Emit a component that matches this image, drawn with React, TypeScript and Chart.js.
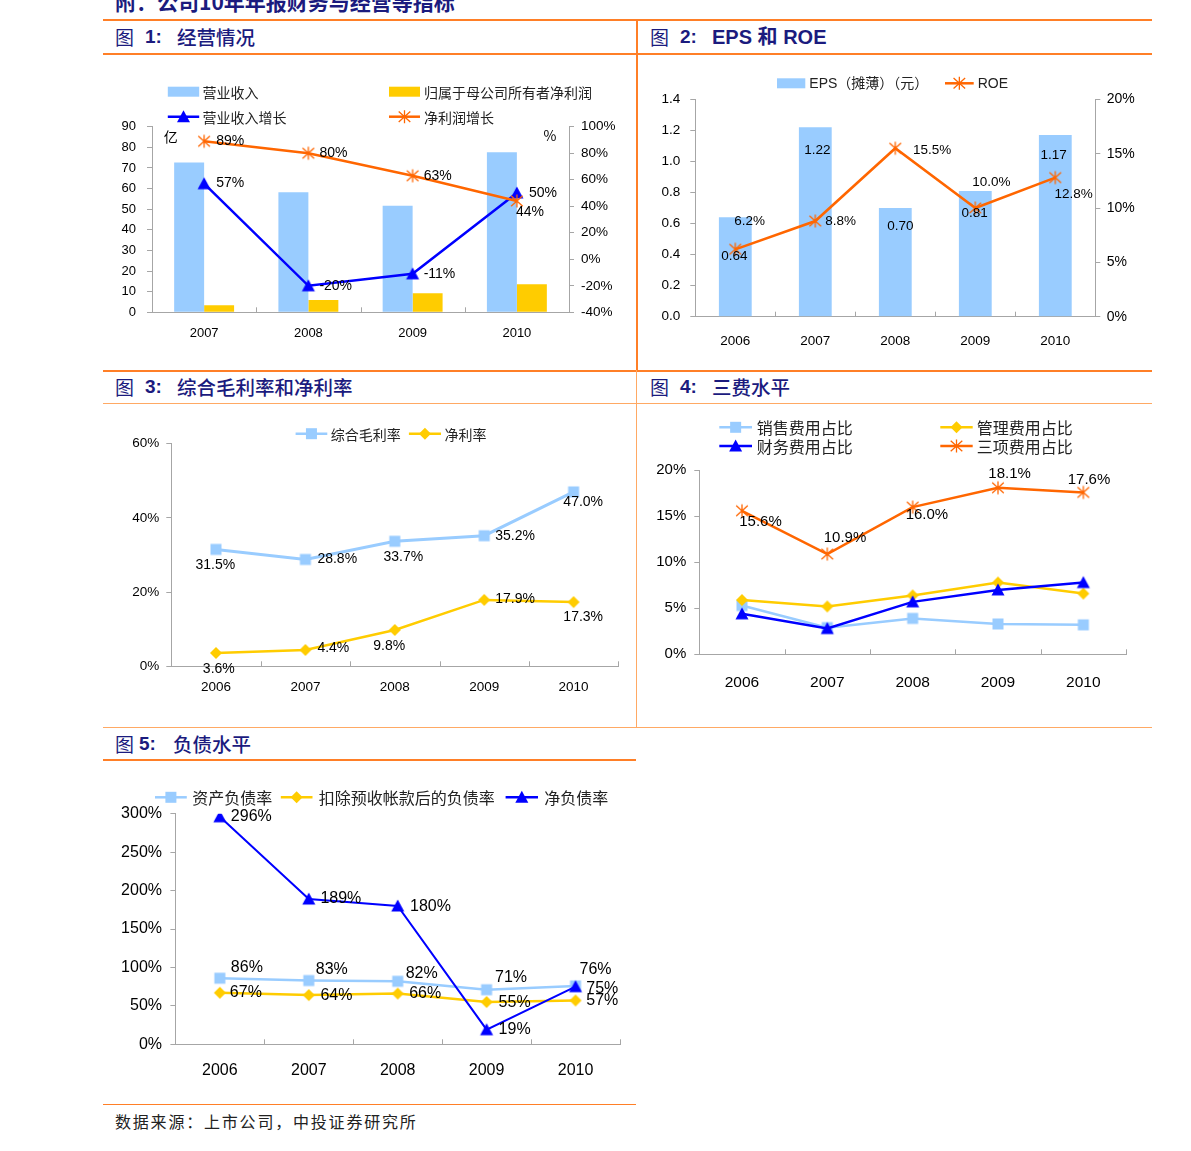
import React, { useEffect, useRef } from "react";
import { Chart, registerables } from "chart.js";
Chart.register(...registerables);

const FONT = "'Liberation Sans', Arial, 'Noto Sans CJK SC', sans-serif";
const CJK = "'Noto Sans CJK SC', 'Liberation Sans', sans-serif";
const AX = "#a6a6a6";
const LIGHT_BLUE = "#99CCFF";
const YELLOW = "#FFCC00";
const BLUE = "#0000FF";
const ORANGE = "#FF6600";
const NAVY = "#1b1b7e";
const LINE_MAIN = "#FF7F27";
const LINE_SOFT = "#FFA964";

// ---------- Figure 1: 经营情况 ----------
const fig1Years = ["2007", "2008", "2009", "2010"];
const fig1Revenue = [72.7, 58.2, 51.7, 77.6];
const fig1NetProfit = [3.4, 6.0, 9.2, 13.6];
const fig1RevenueGrowth = [57, -20, -11, 50];
const fig1ProfitGrowth = [89, 80, 63, 44];

// ---------- Figure 2: EPS 和 ROE ----------
const fig2Years = ["2006", "2007", "2008", "2009", "2010"];
const fig2Eps = [0.64, 1.22, 0.7, 0.81, 1.17];
const fig2Roe = [6.2, 8.8, 15.5, 10.0, 12.8];

// ---------- Figure 3: 综合毛利率和净利率 ----------
const fig3Years = ["2006", "2007", "2008", "2009", "2010"];
const fig3Gross = [31.5, 28.8, 33.7, 35.2, 47.0];
const fig3Net = [3.6, 4.4, 9.8, 17.9, 17.3];

// ---------- Figure 4: 三费水平 ----------
const fig4Years = ["2006", "2007", "2008", "2009", "2010"];
const fig4Selling = [5.3, 2.9, 3.9, 3.3, 3.2];
const fig4Admin = [5.9, 5.2, 6.4, 7.8, 6.6];
const fig4Finance = [4.4, 2.8, 5.7, 7.0, 7.8];
const fig4Total = [15.6, 10.9, 16.0, 18.1, 17.6];

// ---------- Figure 5: 负债水平 ----------
const fig5Years = ["2006", "2007", "2008", "2009", "2010"];
const fig5Asset = [86, 83, 82, 71, 76];
const fig5Adjusted = [67, 64, 66, 55, 57];
const fig5Net = [296, 189, 180, 19, 75];

// ---------- markers ----------
function drawMarker(ctx: any, kind: string, cx: number, cy: number, color: string) {
  ctx.save();
  ctx.fillStyle = color;
  ctx.strokeStyle = color;
  if (kind === "triangle") {
    ctx.beginPath();
    ctx.moveTo(cx, cy - 6.5);
    ctx.lineTo(cx + 6.5, cy + 5.5);
    ctx.lineTo(cx - 6.5, cy + 5.5);
    ctx.closePath();
    ctx.fill();
  } else if (kind === "square") {
    ctx.fillRect(cx - 5.5, cy - 5.5, 11, 11);
  } else if (kind === "diamond") {
    ctx.beginPath();
    ctx.moveTo(cx, cy - 6);
    ctx.lineTo(cx + 6, cy);
    ctx.lineTo(cx, cy + 6);
    ctx.lineTo(cx - 6, cy);
    ctx.closePath();
    ctx.fill();
  } else if (kind === "star") {
    ctx.lineWidth = 1.3;
    ctx.beginPath();
    ctx.moveTo(cx, cy - 6.5);
    ctx.lineTo(cx, cy + 6.5);
    ctx.moveTo(cx - 5.8, cy - 5.2);
    ctx.lineTo(cx + 5.8, cy + 5.2);
    ctx.moveTo(cx + 5.8, cy - 5.2);
    ctx.lineTo(cx - 5.8, cy + 5.2);
    ctx.stroke();
  }
  ctx.restore();
}

function markerImage(kind: string, color: string) {
  const c = document.createElement("canvas");
  c.width = 16;
  c.height = 16;
  drawMarker(c.getContext("2d"), kind, 8, 8, color);
  return c;
}

// ---------- decoration plugin: inner x ticks, point labels, legend, texts ----------
const decorPlugin = {
  id: "decor",
  afterDatasetsDraw(chart: any) {
    const o = chart.options.plugins.decor;
    if (!o) return;
    const ctx = chart.ctx;
    const area = chart.chartArea;
    ctx.save();
    if (o.innerTicks) {
      const n = chart.data.labels.length;
      const w = (area.right - area.left) / n;
      const last = o.innerTicks === "all" ? n : n - 1;
      ctx.strokeStyle = AX;
      ctx.lineWidth = 1;
      for (let i = 1; i <= last; i++) {
        const x = Math.round(area.left + i * w) + 0.5;
        ctx.beginPath();
        ctx.moveTo(x, area.bottom);
        ctx.lineTo(x, area.bottom - 5);
        ctx.stroke();
      }
    }
    for (const set of o.labels || []) {
      const meta = chart.getDatasetMeta(set.dataset);
      ctx.font = `${set.size}px ${FONT}`;
      ctx.fillStyle = "#000";
      ctx.textBaseline = "middle";
      meta.data.forEach((el: any, i: number) => {
        const sp = set.specs[i];
        ctx.textAlign = sp[2] || "left";
        ctx.fillText(set.texts[i], el.x + sp[0], el.y + sp[1]);
      });
    }
    ctx.restore();
  },
  afterDraw(chart: any) {
    const o = chart.options.plugins.decor;
    if (!o) return;
    const ctx = chart.ctx;
    ctx.save();
    if (o.legend) {
      const lg = o.legend;
      ctx.font = `${lg.size}px ${lg.family || CJK}`;
      ctx.textBaseline = "middle";
      ctx.textAlign = "left";
      for (const it of lg.items) {
        if (it.kind === "box") {
          ctx.fillStyle = it.color;
          ctx.fillRect(it.x, it.y - 5, it.w, 10);
        } else {
          ctx.strokeStyle = it.color;
          ctx.lineWidth = 2.5;
          ctx.beginPath();
          ctx.moveTo(it.x, it.y);
          ctx.lineTo(it.x + it.w, it.y);
          ctx.stroke();
          if (it.marker) drawMarker(ctx, it.marker, it.x + it.w / 2, it.y, it.color);
        }
        ctx.fillStyle = "#222";
        ctx.fillText(it.text, it.tx, it.y + 1);
      }
    }
    for (const t of o.texts || []) {
      ctx.font = `${t.size}px ${CJK}`;
      ctx.fillStyle = "#000";
      ctx.textBaseline = "middle";
      ctx.textAlign = "left";
      ctx.fillText(t.text, t.x, t.y);
    }
    ctx.restore();
  },
};

function xAxis(height: number, size: number, padding: number) {
  return {
    type: "category",
    offset: true,
    grid: { display: false, drawTicks: false },
    border: { display: true, color: AX, width: 1 },
    ticks: { font: { family: FONT, size }, color: "#000", padding, autoSkip: false, maxRotation: 0 },
    afterFit: (s: any) => {
      s.height = height;
    },
  };
}

function yAxis(pos: string, width: number, min: number, max: number, step: number, size: number, padding: number, fmt: (v: number) => string) {
  return {
    position: pos,
    min,
    max,
    grid: { drawOnChartArea: false, drawTicks: true, tickLength: 5, color: AX },
    border: { display: true, color: AX, width: 1 },
    ticks: { stepSize: step, font: { family: FONT, size }, color: "#000", padding, callback: (v: any) => fmt(Number(v)) },
    afterFit: (s: any) => {
      s.width = width;
    },
  };
}

const baseOptions = (padding: any) => ({
  responsive: false,
  animation: false,
  events: [],
  layout: { padding },
});

function buildFig1() {
  const tri = markerImage("triangle", BLUE);
  const star = markerImage("star", ORANGE);
  return {
    type: "bar",
    data: {
      labels: fig1Years,
      datasets: [
        { type: "bar", data: fig1Revenue, backgroundColor: LIGHT_BLUE, yAxisID: "y", barPercentage: 1, categoryPercentage: 0.575, order: 2 },
        { type: "bar", data: fig1NetProfit, backgroundColor: YELLOW, yAxisID: "y", barPercentage: 1, categoryPercentage: 0.575, order: 2 },
        { type: "line", data: fig1RevenueGrowth, borderColor: BLUE, borderWidth: 2.5, pointStyle: tri, pointRadius: 6, yAxisID: "y1", order: 1 },
        { type: "line", data: fig1ProfitGrowth, borderColor: ORANGE, borderWidth: 2.5, pointStyle: star, pointRadius: 6, yAxisID: "y1", order: 0 },
      ],
    },
    options: {
      ...baseOptions({ top: 71.7, left: 0, right: 0, bottom: 0 }),
      scales: {
        x: xAxis(55.7, 13, 13),
        y: yAxis("left", 49, 0, 90, 10, 13, 11, (v) => String(v)),
        y1: yAxis("right", 67, -40, 100, 20, 13.5, 7, (v) => v + "%"),
      },
      plugins: {
        legend: { display: false },
        tooltip: { enabled: false },
        decor: {
          innerTicks: "inner",
          labels: [
            { dataset: 3, size: 14, texts: fig1ProfitGrowth.map((v) => v + "%"), specs: [[12, 0], [11, 0], [11, 0], [-1, 11]] },
            { dataset: 2, size: 14, texts: fig1RevenueGrowth.map((v) => v + "%"), specs: [[12, -1], [11, 0], [11, 0], [12, 0]] },
          ],
          legend: {
            size: 14,
            items: [
              { kind: "box", x: 64.8, w: 31.4, y: 36.7, color: LIGHT_BLUE, text: "营业收入", tx: 99.6 },
              { kind: "box", x: 286, w: 31, y: 36.7, color: YELLOW, text: "归属于母公司所有者净利润", tx: 321 },
              { kind: "line", x: 64.8, w: 31.4, y: 61.7, color: BLUE, marker: "triangle", text: "营业收入增长", tx: 99.6 },
              { kind: "line", x: 286, w: 31, y: 61.7, color: ORANGE, marker: "star", text: "净利润增长", tx: 321 },
            ],
          },
          texts: [
            { text: "亿", x: 60.7, y: 81.7, size: 14 },
            { text: "%", x: 440.5, y: 81, size: 14 },
          ],
        },
      },
    },
    plugins: [decorPlugin],
  };
}

function buildFig2() {
  const star = markerImage("star", ORANGE);
  return {
    type: "bar",
    data: {
      labels: fig2Years,
      datasets: [
        { type: "bar", data: fig2Eps, backgroundColor: LIGHT_BLUE, yAxisID: "y", barPercentage: 1, categoryPercentage: 0.41, order: 1 },
        { type: "line", data: fig2Roe, borderColor: ORANGE, borderWidth: 2.5, pointStyle: star, pointRadius: 6, yAxisID: "y1", order: 0 },
      ],
    },
    options: {
      ...baseOptions({ top: 44.3, left: 0, right: 0, bottom: 0 }),
      scales: {
        x: xAxis(51.3, 13.5, 16.5),
        y: yAxis("left", 57.3, 0, 1.4, 0.2, 13.5, 10, (v) => v.toFixed(1)),
        y1: yAxis("right", 56.7, 0, 20, 5, 14, 6.4, (v) => v + "%"),
      },
      plugins: {
        legend: { display: false },
        tooltip: { enabled: false },
        decor: {
          innerTicks: "inner",
          labels: [
            { dataset: 0, size: 13.5, texts: fig2Eps.map((v) => v.toFixed(2)), specs: [[-1, 39, "center"], [2, 23.5, "center"], [5, 18.7, "center"], [-0.7, 22, "center"], [-1.7, 20.7, "center"]] },
            { dataset: 1, size: 13.5, texts: fig2Roe.map((v) => v.toFixed(1) + "%"), specs: [[-1, -28], [10, 0], [17.7, 2.5], [16, -26, "center"], [-0.7, 17]] },
          ],
          legend: {
            size: 14,
            family: FONT,
            items: [
              { kind: "box", x: 139, w: 28.3, y: 28.3, color: LIGHT_BLUE, text: "EPS（摊薄）（元）", tx: 171.3 },
              { kind: "line", x: 307, w: 28.7, y: 28.3, color: ORANGE, marker: "star", text: "ROE", tx: 339.7 },
            ],
          },
        },
      },
    },
    plugins: [decorPlugin],
  };
}

function buildFig3() {
  const sq = markerImage("square", LIGHT_BLUE);
  const dia = markerImage("diamond", YELLOW);
  return {
    type: "line",
    data: {
      labels: fig3Years,
      datasets: [
        { data: fig3Gross, borderColor: LIGHT_BLUE, borderWidth: 3, pointStyle: sq, pointRadius: 6 },
        { data: fig3Net, borderColor: YELLOW, borderWidth: 2.5, pointStyle: dia, pointRadius: 6 },
      ],
    },
    options: {
      ...baseOptions({ top: 37.7, left: 0, right: 17.7, bottom: 0 }),
      scales: {
        x: xAxis(59.7, 13.5, 13),
        y: yAxis("left", 68.3, 0, 60, 20, 13.5, 7, (v) => v + "%"),
      },
      plugins: {
        legend: { display: false },
        tooltip: { enabled: false },
        decor: {
          innerTicks: "all",
          labels: [
            { dataset: 0, size: 14, texts: fig3Gross.map((v) => v.toFixed(1) + "%"), specs: [[-0.6, 15.6, "center"], [12, 0], [8.5, 16, "center"], [11, 0], [9.6, 10.7, "center"]] },
            { dataset: 1, size: 14, texts: fig3Net.map((v) => v.toFixed(1) + "%"), specs: [[2.8, 16, "center"], [12, -1.7], [-5.6, 16, "center"], [11, -1], [9.6, 15, "center"]] },
          ],
          legend: {
            size: 14,
            items: [
              { kind: "line", x: 192.6, w: 31.7, y: 27.7, color: LIGHT_BLUE, marker: "square", text: "综合毛利率", tx: 227.7 },
              { kind: "line", x: 305.9, w: 32.1, y: 27.7, color: YELLOW, marker: "diamond", text: "净利率", tx: 341.4 },
            ],
          },
        },
      },
    },
    plugins: [decorPlugin],
  };
}

function buildFig4() {
  return {
    type: "line",
    data: {
      labels: fig4Years,
      datasets: [
        { data: fig4Selling, borderColor: LIGHT_BLUE, borderWidth: 2.5, pointStyle: markerImage("square", LIGHT_BLUE), pointRadius: 6, order: 3 },
        { data: fig4Admin, borderColor: YELLOW, borderWidth: 2.5, pointStyle: markerImage("diamond", YELLOW), pointRadius: 6, order: 2 },
        { data: fig4Finance, borderColor: BLUE, borderWidth: 2.5, pointStyle: markerImage("triangle", BLUE), pointRadius: 6, order: 1 },
        { data: fig4Total, borderColor: ORANGE, borderWidth: 2.5, pointStyle: markerImage("star", ORANGE), pointRadius: 6, order: 0 },
      ],
    },
    options: {
      ...baseOptions({ top: 64.3, left: 0, right: 26, bottom: 0 }),
      scales: {
        x: xAxis(71.7, 15.5, 18.7),
        y: yAxis("left", 61.3, 0, 20, 5, 15, 8, (v) => v + "%"),
      },
      plugins: {
        legend: { display: false },
        tooltip: { enabled: false },
        decor: {
          innerTicks: "all",
          labels: [
            { dataset: 3, size: 15, texts: fig4Total.map((v) => v.toFixed(1) + "%"), specs: [[-2.7, 11], [-3.6, -16.3], [-7, 8], [-9.7, -13.5], [-15.6, -13]] },
          ],
          legend: {
            size: 16,
            items: [
              { kind: "line", x: 81.3, w: 32.7, y: 21.3, color: LIGHT_BLUE, marker: "square", text: "销售费用占比", tx: 118.7 },
              { kind: "line", x: 302.3, w: 32.4, y: 21.3, color: YELLOW, marker: "diamond", text: "管理费用占比", tx: 338.7 },
              { kind: "line", x: 81.3, w: 32.7, y: 40, color: BLUE, marker: "triangle", text: "财务费用占比", tx: 118.7 },
              { kind: "line", x: 302.3, w: 32.4, y: 40, color: ORANGE, marker: "star", text: "三项费用占比", tx: 338.7 },
            ],
          },
        },
      },
    },
    plugins: [decorPlugin],
  };
}

function buildFig5() {
  return {
    type: "line",
    data: {
      labels: fig5Years,
      datasets: [
        { data: fig5Asset, borderColor: LIGHT_BLUE, borderWidth: 2.5, pointStyle: markerImage("square", LIGHT_BLUE), pointRadius: 6, order: 2 },
        { data: fig5Adjusted, borderColor: YELLOW, borderWidth: 2.5, pointStyle: markerImage("diamond", YELLOW), pointRadius: 6, order: 1 },
        { data: fig5Net, borderColor: BLUE, borderWidth: 2, pointStyle: markerImage("triangle", BLUE), pointRadius: 6, order: 0 },
      ],
    },
    options: {
      ...baseOptions({ top: 51.7, left: 0, right: 16, bottom: 0 }),
      scales: {
        x: xAxis(57.7, 16, 16.5),
        y: yAxis("left", 72.4, 0, 300, 50, 16, 8.4, (v) => v + "%"),
      },
      plugins: {
        legend: { display: false },
        tooltip: { enabled: false },
        decor: {
          innerTicks: "all",
          labels: [
            { dataset: 0, size: 16, texts: fig5Asset.map((v) => v + "%"), specs: [[11, -11], [7, -11], [8, -7.6], [8.4, -12.4], [4, -16.6]] },
            { dataset: 1, size: 16, texts: fig5Adjusted.map((v) => v + "%"), specs: [[10, 0], [11.6, 0], [11.5, 0], [12, 1], [10.7, 0]] },
            { dataset: 2, size: 16, texts: fig5Net.map((v) => v + "%"), specs: [[11, 0], [11.6, 0], [12.3, 1], [12, 0], [10.7, 1.6]] },
          ],
          legend: {
            size: 16,
            items: [
              { kind: "line", x: 52, w: 31.8, y: 35.3, color: LIGHT_BLUE, marker: "square", text: "资产负债率", tx: 89.3 },
              { kind: "line", x: 177.8, w: 31.7, y: 35.3, color: YELLOW, marker: "diamond", text: "扣除预收帐款后的负债率", tx: 215.7 },
              { kind: "line", x: 402.6, w: 32.4, y: 35.3, color: BLUE, marker: "triangle", text: "净负债率", tx: 441.2 },
            ],
          },
        },
      },
    },
    plugins: [decorPlugin],
  };
}

function ChartBox({ left, top, width, height, build }: any) {
  const ref = useRef<HTMLCanvasElement>(null);
  useEffect(() => {
    const chart = new Chart(ref.current as any, build());
    return () => chart.destroy();
  }, []);
  return (
    <canvas
      ref={ref}
      width={width}
      height={height}
      style={{ position: "absolute", left, top, width, height }}
    />
  );
}

function HLine({ x, y, w, h = 2, color = LINE_MAIN }: any) {
  return <div style={{ position: "absolute", left: x, top: y, width: w, height: h, background: color }} />;
}

function Title({ x, numX, textX, cy, num, text, latin }: any) {
  const base: any = { position: "absolute", top: cy - 12, height: 24, lineHeight: "24px", color: NAVY, whiteSpace: "nowrap" };
  return (
    <>
      <span style={{ ...base, left: x, fontFamily: CJK, fontSize: 19 }}>图</span>
      <span style={{ ...base, left: numX, fontFamily: FONT, fontWeight: "bold", fontSize: 19 }}>{num}:</span>
      <span
        style={{
          ...base,
          left: textX,
          fontFamily: latin ? FONT : CJK,
          fontWeight: latin ? "bold" : 500,
          fontSize: latin ? 20 : 19.5,
        }}
      >
        {text}
      </span>
    </>
  );
}

export default function App() {
  return (
    <div style={{ position: "absolute", left: 0, top: 0, width: 1191, height: 1151, background: "#fff", overflow: "hidden" }}>
      <div
        style={{
          position: "absolute",
          left: 115,
          top: -9,
          fontFamily: CJK,
          fontWeight: "bold",
          fontSize: 21,
          lineHeight: "21px",
          color: NAVY,
          whiteSpace: "nowrap",
        }}
      >
        附：公司10年年报财务与经营等指标
      </div>

      <HLine x={103} y={19} w={1049} />
      <HLine x={103} y={52.5} w={1049} />
      <HLine x={103} y={369.5} w={1049} />
      <HLine x={103} y={402.5} w={1049} h={1.5} color={LINE_SOFT} />
      <HLine x={103} y={726.5} w={1049} h={1.5} color={LINE_SOFT} />
      <HLine x={103} y={759} w={533} h={1.5} color={LINE_MAIN} />
      <HLine x={103} y={1103.5} w={533} h={1.5} color={LINE_MAIN} />
      <div style={{ position: "absolute", left: 635.5, top: 20, width: 2, height: 350, background: LINE_MAIN }} />
      <div style={{ position: "absolute", left: 635.5, top: 370, width: 1.5, height: 357, background: LINE_SOFT }} />

      <Title x={115} numX={145} textX={177} cy={37} num="1" text="经营情况" />
      <Title x={650} numX={680} textX={712} cy={37} num="2" text="EPS 和 ROE" latin />
      <Title x={115} numX={145} textX={177} cy={387} num="3" text="综合毛利率和净利率" />
      <Title x={650} numX={680} textX={712} cy={387} num="4" text="三费水平" />
      <Title x={115} numX={139} textX={173} cy={744} num="5" text="负债水平" />

      <ChartBox left={103} top={55} width={533} height={313} build={buildFig1} />
      <ChartBox left={638} top={55} width={514} height={313} build={buildFig2} />
      <ChartBox left={103} top={406} width={533} height={320} build={buildFig3} />
      <ChartBox left={638} top={406} width={514} height={320} build={buildFig4} />
      <ChartBox left={103} top={762} width={533} height={340} build={buildFig5} />

      <div
        style={{
          position: "absolute",
          left: 115,
          top: 1109,
          lineHeight: "24px",
          fontFamily: CJK,
          fontSize: 16,
          letterSpacing: 1.8,
          color: "#222",
          whiteSpace: "nowrap",
        }}
      >
        数据来源：上市公司，中投证券研究所
      </div>
    </div>
  );
}
